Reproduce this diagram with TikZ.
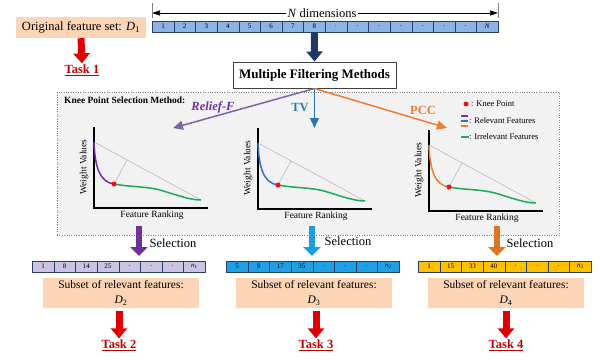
\documentclass[tikz,border=0pt]{standalone}
\usepackage{fontspec}
\setmainfont{Liberation Serif}
\usepackage{tikz}
\usetikzlibrary{arrows.meta, positioning, calc}

\definecolor{peach}{HTML}{FBD5B5}
\definecolor{topblue}{HTML}{8DB3E2}
\definecolor{cellline}{HTML}{2B3F6B}
\definecolor{navyarrow}{HTML}{1F3864}
\definecolor{boxgray}{HTML}{F2F2F2}
\definecolor{relpurple}{HTML}{7030A0}
\definecolor{relieflilac}{HTML}{8064A2}
\definecolor{tvblue}{HTML}{2E75B6}
\definecolor{selblue}{HTML}{1B9DE2}
\definecolor{pccorange}{HTML}{ED7D31}
\definecolor{selorange}{HTML}{DE7424}
\definecolor{lavbar}{HTML}{CBC3E3}
\definecolor{cyanbar}{HTML}{1FA0E4}
\definecolor{goldbar}{HTML}{FFC000}
\definecolor{irrgreen}{HTML}{1FA85A}
\definecolor{kneered}{HTML}{E8141C}
\definecolor{taskred}{HTML}{C00000}
\definecolor{arrowred}{HTML}{E00000}

\tikzset{
  topcell/.style={draw=cellline, fill=topblue, line width=0.6pt, minimum width=21.625pt,
    minimum height=11pt, inner sep=0pt, anchor=west, font=\fontsize{7}{8}\selectfont},
  peachbox/.style={fill=peach, inner sep=0pt, align=center, font=\fontsize{11.5}{15}\selectfont},
  taskbox/.style={text=taskred, font=\fontsize{12.5}{14}\selectfont\bfseries, inner sep=1pt},
  redarrow/.style={draw=arrowred, line width=7pt, -{Triangle[width=16pt,length=10pt]}},
  selarrow/.style={line width=6pt, -{Triangle[width=17pt,length=9pt]}},
  filterarrow/.style={line width=1.5pt, -{Triangle[width=9pt,length=10pt]}},
  dimarrow/.style={line width=0.6pt, -{Triangle[width=5pt,length=8pt]}},
  axlabel/.style={font=\fontsize{9.5}{11}\selectfont, inner sep=1pt},
  methodlabel/.style={font=\fontsize{12.5}{14}\selectfont\bfseries, inner sep=1pt},
  sellabel/.style={font=\fontsize{12.5}{14}\selectfont, inner sep=1pt},
  leglabel/.style={font=\fontsize{8.5}{10}\selectfont, anchor=west, inner sep=1pt}
}

\begin{document}
\begin{tikzpicture}[x=1pt, y=-1pt]
    \useasboundingbox (0,0) rectangle (600,364);

    % original feature set
    \node[peachbox, minimum width=130pt, minimum height=21pt, font=\fontsize{12.5}{14}\selectfont] (orig) at (81,27.5)
        {Original feature set: \textit{D}\textsubscript{1}};
    \node[taskbox] (task1) at (82,70) {\underline{Task 1}};
    \draw[redarrow] (orig.south) -- (task1.north);

    % N dimensions
    \foreach \t [count=\i] in {1,2,3,4,5,6,7,8,.,.,.,.,.,.,.,\textit{N}}
        \node[topcell] (top\i) at ({152+(\i-1)*21.625},26.5) {\t};
    \node[sellabel] (ndim) at (322,13) {\textit{N} dimensions};
    \coordinate (dimL) at (152,13);
    \coordinate (dimR) at (498,13);
    \draw[dimarrow] (ndim.west) -- (dimL);
    \draw[dimarrow] (ndim.east) -- (dimR);
    \draw[thin, gray] (152,3) -- (152,18);
    \draw[thin, gray] (498,3) -- (498,18);

    % filtering methods
    \node[draw=black!75, line width=1pt, fill=white, minimum width=163pt, minimum height=26pt,
        font=\fontsize{13}{15}\selectfont\bfseries] (mfm) at (314.5,75) {Multiple Filtering Methods};
    \draw[navyarrow, line width=7pt, -{Triangle[width=16pt,length=10pt]}] (top8.south) -- (mfm.north);

    % knee point box
    \node[draw=gray, dotted, fill=boxgray, minimum width=502pt, minimum height=143pt, inner sep=0pt]
        (kneebox) at (308,163.5) {};
    \node[font=\fontsize{9.5}{11}\selectfont\bfseries, anchor=west, inner sep=1pt] (kneetitle) at (63,100)
        {Knee Point Selection Method:};

    \coordinate (reliefend) at (173,128);
    \coordinate (tvend) at (314.5,128);
    \coordinate (pccend) at (447,128);
    \draw[filterarrow, relieflilac] (mfm.south) -- (reliefend);
    \draw[filterarrow, tvblue] (mfm.south) -- (tvend);
    \draw[filterarrow, pccorange] (mfm.south) -- (pccend);
    \node[methodlabel, text=relpurple] (relief) at (213,107) {\textit{Relief-F}};
    \node[methodlabel, text=tvblue] (tv) at (300,108) {TV};
    \node[methodlabel, text=pccorange] (pcc) at (423,110) {PCC};

    % legend
    \fill[kneered] (466,104) circle (2.5pt);
    \node[leglabel] (legknee) at (470,104) {: Knee Point};
    \draw[relpurple, line width=1.2pt] (461,116) -- (468,116);
    \draw[tvblue, line width=1.2pt] (461,121) -- (468,121);
    \draw[pccorange, line width=1.2pt] (461,126) -- (468,126);
    \node[leglabel] (legrel) at (468,121) {: Relevant Features};
    \draw[irrgreen, line width=1.5pt] (461,137) -- (469,137);
    \node[leglabel] (legirr) at (468,137) {: Irrelevant Features};

    % knee plots
    \foreach \ox/\oy/\col/\p in {94/208/relpurple/a, 258/209/tvblue/b, 429/211/pccorange/c}{
        \begin{scope}[shift={(\ox,\oy)}]
            \draw[line width=1.2pt] (0,-81) -- (0,0) -- (114,0);
            \coordinate (ds\p) at (0,-66);
            \coordinate (de\p) at (107,-8);
            \coordinate (kn\p) at (20,-24);
            \draw[gray!60, line width=0.5pt] (ds\p) -- (de\p);
            \draw[gray!60, line width=0.5pt] (kn\p) -- ($(ds\p)!(kn\p)!(de\p)$);
            \draw[draw=\col, line width=1.5pt] (ds\p) .. controls (1,-40) and (6,-26) .. (kn\p);
            \draw[irrgreen, line width=1.5pt] (kn\p) .. controls (35,-21) and (50,-22) .. (66,-18)
                .. controls (80,-14) and (95,-8) .. (de\p);
            \fill[kneered] (kn\p) circle (2.5pt);
            \node[axlabel, rotate=90] (wv\p) at (-10,-41) {Weight Values};
            \node[axlabel] (fr\p) at (58,7) {Feature Ranking};
        \end{scope}
    }

    % selection
    \coordinate (selAs) at (139,226);
    \coordinate (selAe) at (139,256);
    \coordinate (selBs) at (312,226);
    \coordinate (selBe) at (312,256);
    \coordinate (selCs) at (497,226);
    \coordinate (selCe) at (497,256);
    \draw[selarrow, relpurple] (selAs) -- (selAe);
    \draw[selarrow, selblue] (selBs) -- (selBe);
    \draw[selarrow, selorange] (selCs) -- (selCe);
    \node[sellabel] (selA) at (173,243) {Selection};
    \node[sellabel] (selB) at (348,241) {Selection};
    \node[sellabel] (selC) at (530,243) {Selection};

    % subsets
    \foreach \t [count=\i] in {1,8,14,25,.,.,.,\textit{n}\textsubscript{1}}
        \node[topcell, fill=lavbar] (suba\i) at ({32+(\i-1)*21.625},266.5) {\t};
    \foreach \t [count=\i] in {5,8,17,35,.,.,.,\textit{n}\textsubscript{2}}
        \node[topcell, fill=cyanbar] (subb\i) at ({226+(\i-1)*21.625},266.5) {\t};
    \foreach \t [count=\i] in {1,15,33,40,.,.,.,\textit{n}\textsubscript{3}}
        \node[topcell, fill=goldbar] (subc\i) at ({418+(\i-1)*21.625},266.5) {\t};

    \node[peachbox, minimum width=156pt, minimum height=30pt] (dtwo) at (121,293)
        {Subset of relevant features:\\\textit{D}\textsubscript{2}};
    \node[peachbox, minimum width=156pt, minimum height=30pt] (dthree) at (314,293)
        {Subset of relevant features:\\\textit{D}\textsubscript{3}};
    \node[peachbox, minimum width=156pt, minimum height=30pt] (dfour) at (506,293)
        {Subset of relevant features:\\\textit{D}\textsubscript{4}};

    % tasks
    \node[taskbox] (task2) at (119,345) {\underline{Task 2}};
    \node[taskbox] (task3) at (316,345) {\underline{Task 3}};
    \node[taskbox] (task4) at (506,345) {\underline{Task 4}};
    \draw[redarrow, shorten <=3pt] (dtwo.south -| task2.north) -- (task2.north);
    \draw[redarrow, shorten <=3pt] (dthree.south -| task3.north) -- (task3.north);
    \draw[redarrow, shorten <=3pt] (dfour.south -| task4.north) -- (task4.north);
\end{tikzpicture}
\end{document}
